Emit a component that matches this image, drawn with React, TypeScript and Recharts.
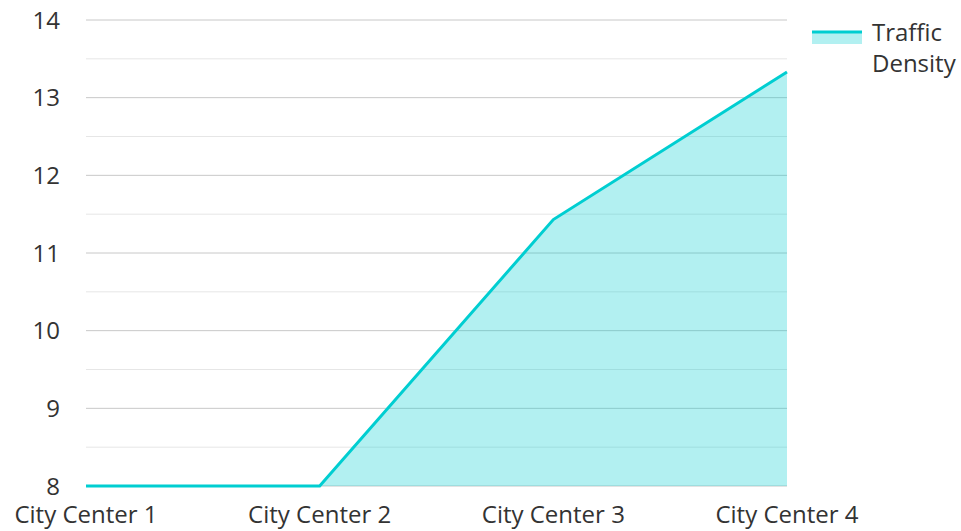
import { AreaChart, Area, XAxis, YAxis, CartesianGrid } from "recharts";

const CITIES = ["City Center 1", "City Center 2", "City Center 3", "City Center 4"];
const DENSITY = [8, 8, 11.43, 13.33];
const Y_TICKS = [8, 9, 10, 11, 12, 13, 14];
const MINOR_TICKS = [8.5, 9.5, 10.5, 11.5, 12.5, 13.5];

const data = CITIES.map((city, i) => ({ city, density: DENSITY[i] }));

const FONT = "'Open Sans', sans-serif";
const TEXT = "#333333";
const COLOR = "#00CED1";
const FS = 24;

function Legend() {
  return (
    <div
      style={{
        position: "absolute",
        left: 812,
        top: 16,
        display: "flex",
        alignItems: "flex-start",
        fontFamily: FONT,
        fontSize: FS,
        color: TEXT,
        lineHeight: "31px",
      }}
    >
      <svg width={50} height={30} style={{ marginTop: 1 }}>
        <rect x={0} y={15} width={50} height={12} fill={COLOR} fillOpacity={0.3} />
        <line x1={0} x2={50} y1={15} y2={15} stroke={COLOR} strokeWidth={3} />
      </svg>
      <div style={{ marginLeft: 10 }}>
        Traffic
        <br />
        Density
      </div>
    </div>
  );
}

export default function App() {
  return (
    <div style={{ position: "absolute", left: 0, top: 0, width: 961, height: 531, background: "#fff" }}>
      <AreaChart width={961} height={531} data={data} margin={{ top: 20, right: 174, left: 0, bottom: 0 }}>
        <CartesianGrid vertical={false} horizontalValues={MINOR_TICKS} stroke="#e6e6e6" />
        <CartesianGrid vertical={false} horizontalValues={Y_TICKS} stroke="#c8c8c8" />
        <XAxis
          dataKey="city"
          axisLine={false}
          tickLine={false}
          height={45}
          tickMargin={14}
          interval={0}
          tick={{ fill: TEXT, fontSize: FS, fontFamily: FONT }}
        />
        <YAxis
          domain={[8, 14]}
          ticks={Y_TICKS}
          axisLine={false}
          tickLine={false}
          width={86}
          tickMargin={20}
          tick={{ fill: TEXT, fontSize: FS, fontFamily: FONT }}
        />
        <Area
          type="linear"
          dataKey="density"
          stroke={COLOR}
          strokeWidth={3}
          fill={COLOR}
          fillOpacity={0.3}
          baseValue={8}
          dot={false}
          activeDot={false}
          isAnimationActive={false}
        />
      </AreaChart>
      <Legend />
    </div>
  );
}
